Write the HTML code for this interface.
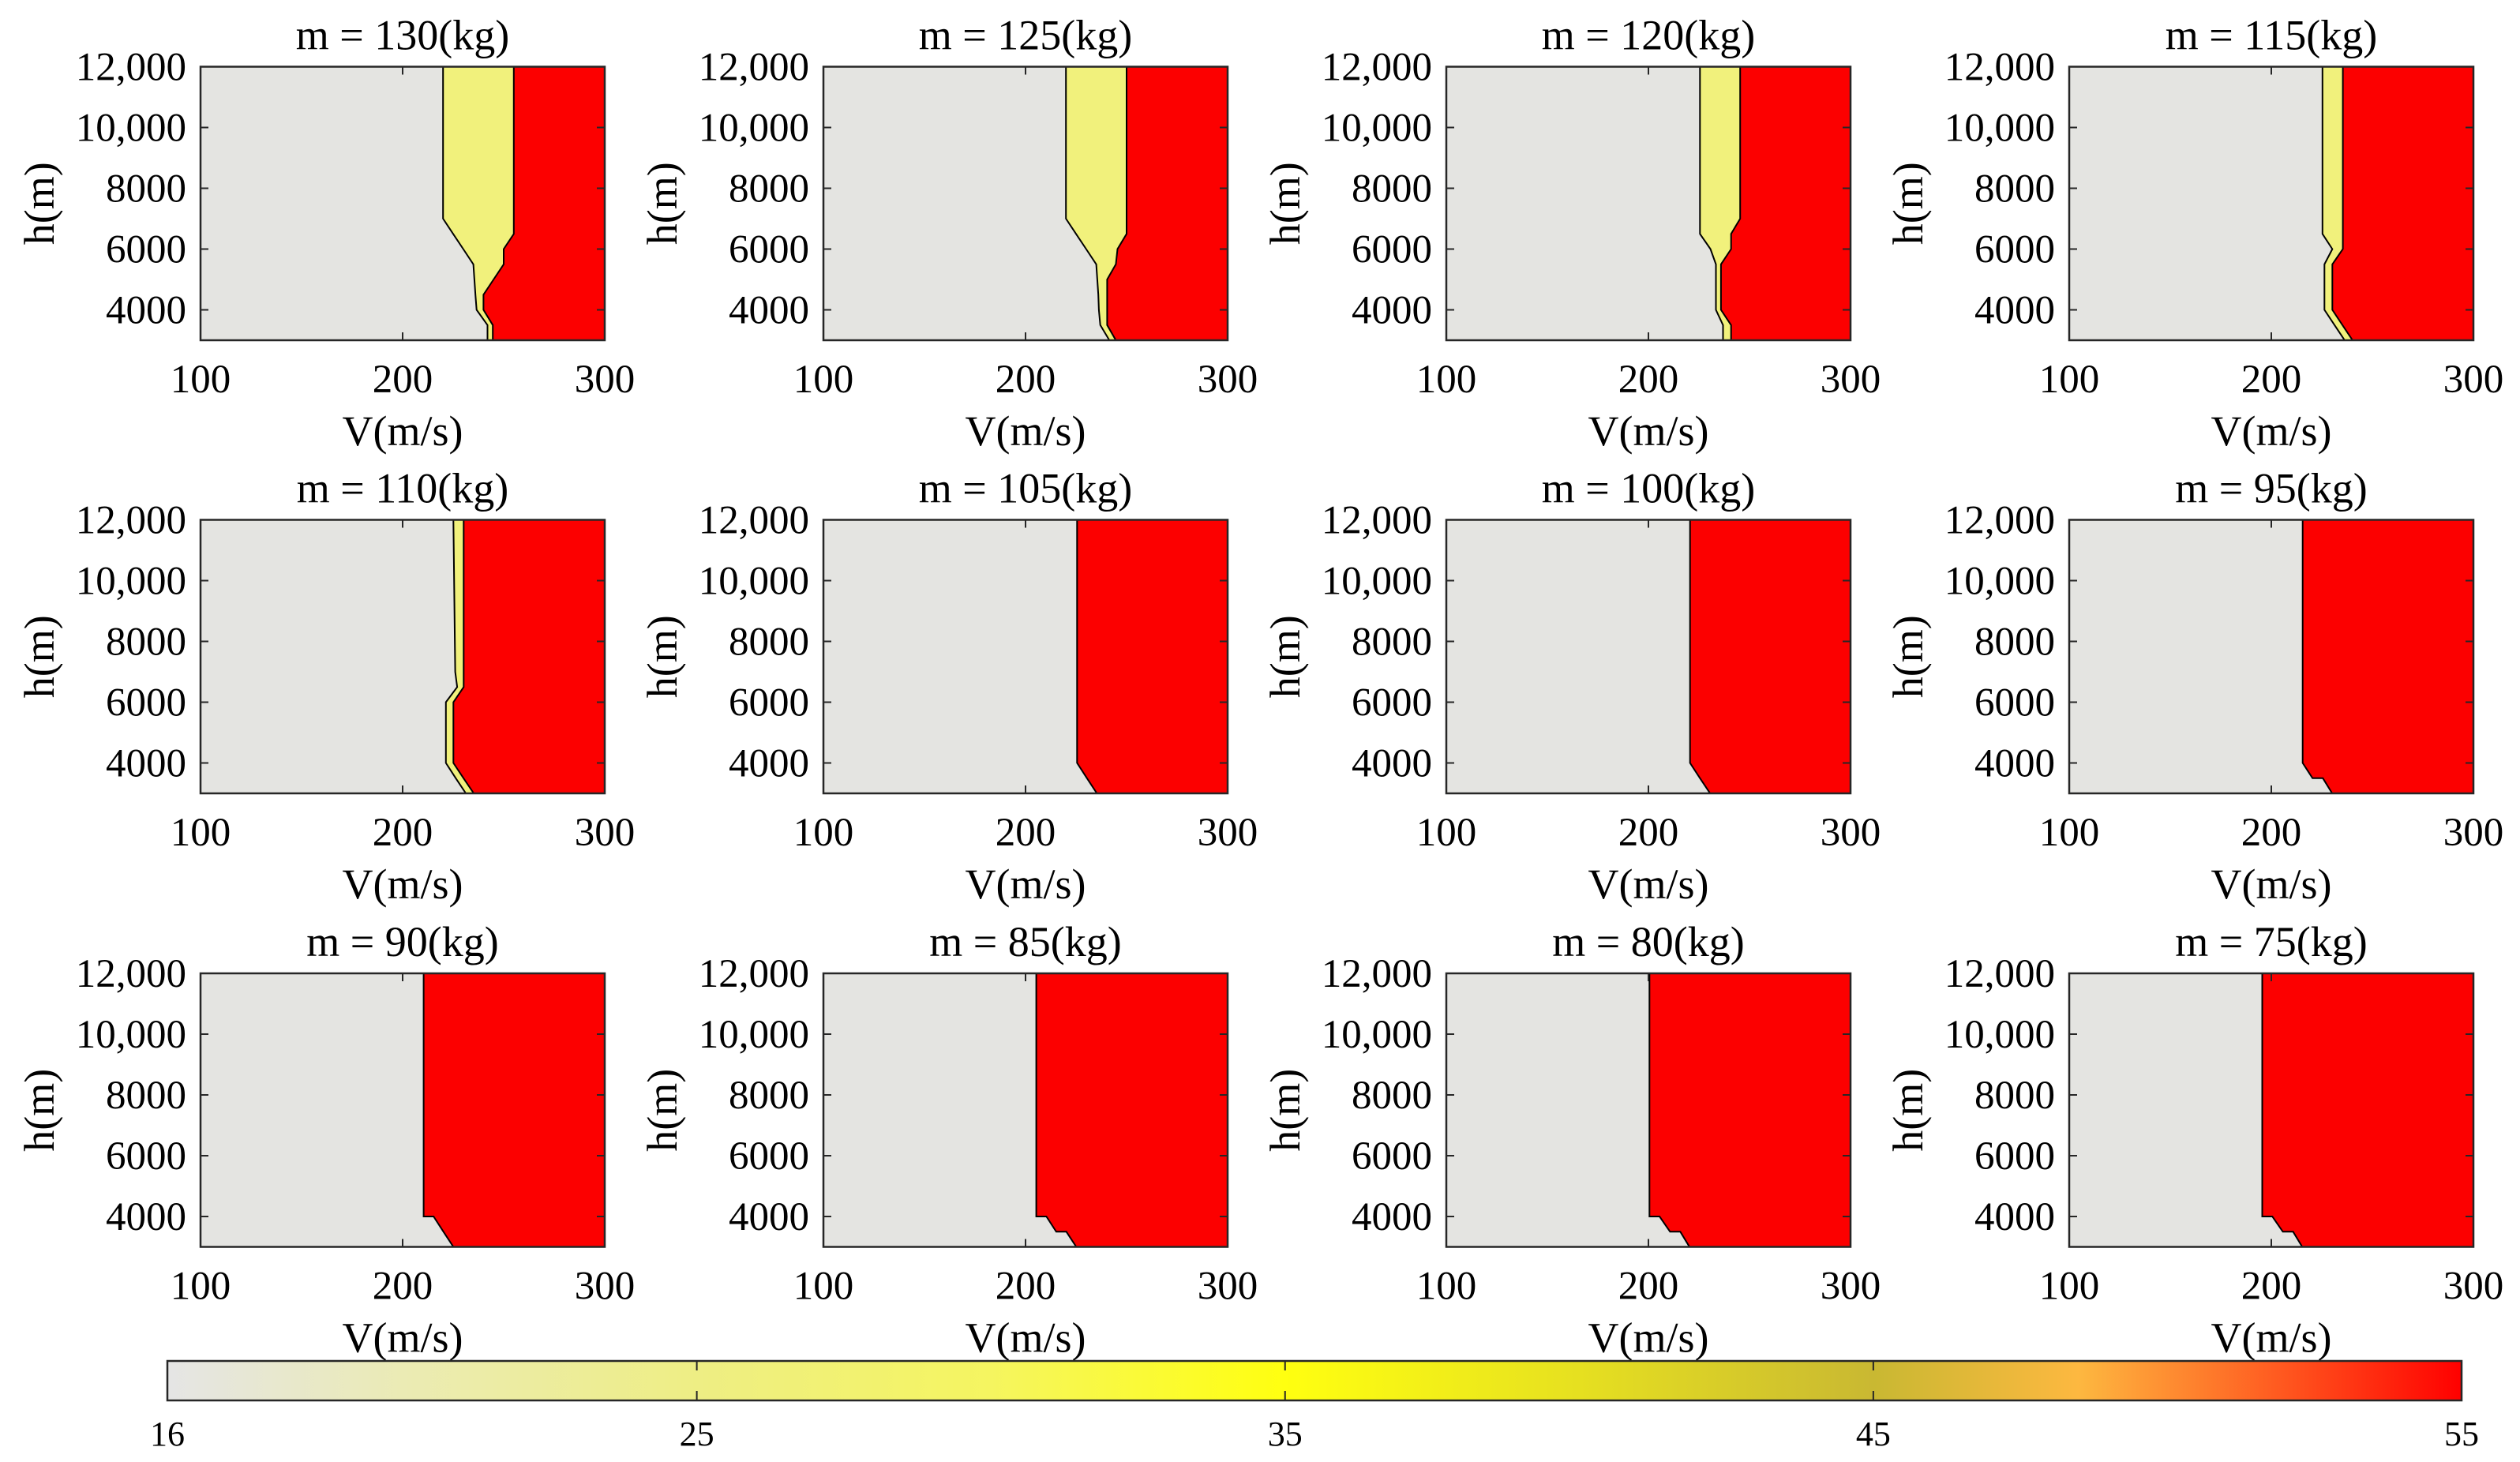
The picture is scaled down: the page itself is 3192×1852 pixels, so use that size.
<!DOCTYPE html>
<html><head><meta charset="utf-8"><style>
html,body{margin:0;padding:0;background:#fff;}
svg text{font-family:"Liberation Serif",serif;fill:#000;}
</style></head><body>
<svg id="fig" xmlns="http://www.w3.org/2000/svg" width="3192" height="1847" viewBox="0 0 3192 1847">
<defs>
<linearGradient id="cmap" x1="0" x2="1" y1="0" y2="0">
<stop offset="0" stop-color="#e5e5e5"/>
<stop offset="0.103" stop-color="#ebebb4"/>
<stop offset="0.231" stop-color="#eeee84"/>
<stop offset="0.359" stop-color="#f5f560"/>
<stop offset="0.487" stop-color="#ffff10"/>
<stop offset="0.615" stop-color="#e6e020"/>
<stop offset="0.744" stop-color="#c9b832"/>
<stop offset="0.833" stop-color="#fdb840"/>
<stop offset="0.92" stop-color="#ff5a20"/>
<stop offset="1" stop-color="#ff0000"/>
</linearGradient>
</defs>
<g id="panels"></g>
<g id="colorbar"></g>
</svg>
<script>
// Shared altitude grid (m); duplicates allow horizontal steps
const hGrid = [12000,7000,6500,6000,5500,5000,4500,4000,4000,3500,3500,3000];
const masses = [130,125,120,115,110,105,100,95,90,85,80,75];
// gray/yellow boundary speeds (m/s)
const grayEdge130 = [220,220,225,230,235,235.5,236,236.6,236.6,242,242,242];
const grayEdge125 = [220,220,225,230,235,235.5,236,236.3,236.3,237,237,241.5];
const grayEdge120 = [225.5,225.5,225.5,230.7,233.4,233.4,233.4,233.4,233.4,236.9,236.9,236.9];
const grayEdge115 = [225.3,225.3,225.3,230.2,226.3,226.3,226.3,226.3,226.3,231.3,231.3,236.3];
const grayEdge110 = [225.1,226,227,221.4,221.4,221.4,221.4,221.4,221.4,226.3,226.3,231.3];
// yellow/red boundary speeds (m/s)
const redEdge130 = [255,255,255,250,250,245,240,240,240,244.6,244.6,244.6];
const redEdge125 = [250,250,250,245.5,244.7,240.4,240.4,240.4,240.4,240.4,240.4,244.7];
const redEdge120 = [245.4,245.4,240.9,240.9,235.9,235.9,235.9,235.9,235.9,240.9,240.9,240.9];
const redEdge115 = [235.4,235.4,235.4,235.4,230.2,230.2,230.2,230.2,230.2,235.2,235.2,240.2];
const redEdge110 = [230.2,230.2,230.2,225.1,225.1,225.1,225.1,225.1,225.1,230.1,230.1,235.2];
const redEdge105 = [225.5,225.5,225.5,225.5,225.5,225.5,225.5,225.5,225.5,230.4,230.4,235.3];
const redEdge100 = [220.6,220.6,220.6,220.6,220.6,220.6,220.6,220.6,220.6,225.5,225.5,230.5];
const redEdge95  = [215.5,215.5,215.5,215.5,215.5,215.5,215.5,215.5,215.5,220.4,225.5,230.1];
const redEdge90  = [210.4,210.4,210.4,210.4,210.4,210.4,210.4,210.4,215.3,220.2,220.2,225.1];
const redEdge85  = [205.3,205.3,205.3,205.3,205.3,205.3,205.3,205.3,210.3,215.2,220.2,225.1];
const redEdge80  = [200.5,200.5,200.5,200.5,200.5,200.5,200.5,200.5,205.5,210.7,215.8,220.3];
const redEdge75  = [195.5,195.5,195.5,195.5,195.5,195.5,195.5,195.5,200.5,205.7,210.8,215.3];
const grayEdges = [grayEdge130,grayEdge125,grayEdge120,grayEdge115,grayEdge110,redEdge105,redEdge100,redEdge95,redEdge90,redEdge85,redEdge80,redEdge75];
const redEdges = [redEdge130,redEdge125,redEdge120,redEdge115,redEdge110,redEdge105,redEdge100,redEdge95,redEdge90,redEdge85,redEdge80,redEdge75];
const xTicks = [100,200,300];
const yTicks = [4000,6000,8000,10000,12000];
const yTickLabels = ["4000","6000","8000","10,000","12,000"];
const cbTicks = [16,25,35,45,55];

const NS = "http://www.w3.org/2000/svg";
function mk(tag, attrs, parent){const e=document.createElementNS(NS,tag);for(const k in attrs)e.setAttribute(k,attrs[k]);parent.appendChild(e);return e;}
const colX=[254,1043,1832,2621], rowY=[84.5,658.5,1233], W=512, H=346.5;
const panels=document.getElementById('panels');
masses.forEach((m,i)=>{
  const L=colX[i%4], T=rowY[Math.floor(i/4)];
  const sx=v=>L+(v-100)/200*W, sy=h=>T+(12000-h)/9000*H;
  const g=mk('g',{},panels);
  
  
  const bg=mk('rect',{x:L,y:T,width:W,height:H,fill:'#e4e4e1'},g);
  
  
  const edgePts=arr=>arr.map((v,k)=>sx(v).toFixed(1)+','+sy(hGrid[k]).toFixed(1));
  const ge=grayEdges[i], re=redEdges[i];
  if(ge!==re){
    const y=mk('polygon',{points:edgePts(ge).join(' ')+' '+sx(300)+','+sy(3000)+' '+sx(300)+','+sy(12000),fill:'#f1f17c',stroke:'#000','stroke-width':2},g);
    
    
  }
  const r=mk('polygon',{points:edgePts(re).join(' ')+' '+sx(300)+','+sy(3000)+' '+sx(300)+','+sy(12000),fill:'#fc0000',stroke:'#000','stroke-width':2},g);
  
  
  const box=mk('rect',{x:L,y:T,width:W,height:H,fill:'none',stroke:'#262626','stroke-width':2.5},g);
  
  
  xTicks.forEach(v=>{
    mk('line',{x1:sx(v),x2:sx(v),y1:T+H,y2:T+H-10,stroke:'#262626','stroke-width':2},g);
    mk('line',{x1:sx(v),x2:sx(v),y1:T,y2:T+10,stroke:'#262626','stroke-width':2},g);
    const t=mk('text',{x:sx(v),y:T+H+66,'font-size':51,'text-anchor':'middle',fill:'#262626'},g);
    t.textContent=v;
    
    
  });
  yTicks.forEach((v,k)=>{
    mk('line',{x1:L,x2:L+10,y1:sy(v),y2:sy(v),stroke:'#262626','stroke-width':2},g);
    mk('line',{x1:L+W,x2:L+W-10,y1:sy(v),y2:sy(v),stroke:'#262626','stroke-width':2},g);
    const t=mk('text',{x:L-18,y:sy(v)+17,'font-size':51,'text-anchor':'end',fill:'#262626'},g);
    t.textContent=yTickLabels[k];
    
    
  });
  const ti=mk('text',{x:L+W/2,y:T-22,'font-size':54,'text-anchor':'middle'},g);
  ti.textContent='m = '+m+'(kg)';
  
  
  const xl=mk('text',{x:L+W/2,y:T+H+133,'font-size':54,'text-anchor':'middle',fill:'#262626'},g);
  xl.textContent='V(m/s)';
  
  
  const cy=T+H/2;
  const yl=mk('text',{x:L-186,y:cy,'font-size':54,'text-anchor':'middle',transform:'rotate(-90 '+(L-186)+' '+cy+')',fill:'#262626'},g);
  yl.textContent='h(m)';
  
  
});
// colorbar
const cb=document.getElementById('colorbar');
const cL=212,cR=3118,cT=1724,cB=1774;
const cx=v=>cL+(v-16)/39*(cR-cL);
mk('rect',{x:cL,y:cT,width:cR-cL,height:cB-cT,fill:'url(#cmap)',stroke:'#262626','stroke-width':2.5},cb);
cbTicks.forEach(v=>{
  mk('line',{x1:cx(v),x2:cx(v),y1:cB,y2:cB-12,stroke:'#262626','stroke-width':2},cb);
  mk('line',{x1:cx(v),x2:cx(v),y1:cT,y2:cT+12,stroke:'#262626','stroke-width':2},cb);
  const t=mk('text',{x:cx(v),y:1831,'font-size':44,'text-anchor':'middle',fill:'#262626'},cb);
  t.textContent=v;
  
  
});
</script>
</body></html>
